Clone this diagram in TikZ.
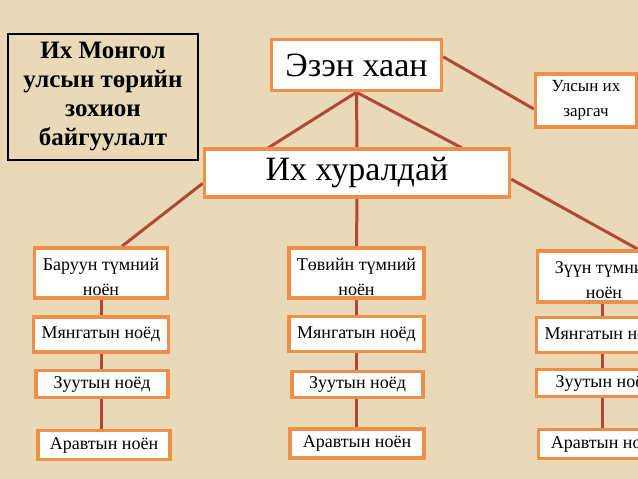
\documentclass[tikz,border=0pt]{standalone}
\usepackage{fontspec}
\setmainfont{Liberation Serif}
\usetikzlibrary{calc}
\definecolor{paper}{RGB}{234,217,182}
\definecolor{boxorange}{RGB}{238,143,74}
\definecolor{linkred}{RGB}{176,72,56}
\pgfdeclarelayer{paperlayer}
\pgfdeclarelayer{linklayer}
\pgfsetlayers{paperlayer,linklayer,main}
\begin{document}
\begin{tikzpicture}[x=1pt,y=-1pt,
  obox/.style={draw=boxorange, line width=3.5pt, fill=white, inner sep=0pt, align=center},
  small/.style={obox, font=\fontsize{18}{25}\selectfont},
  twoline/.style={text height=44pt, text depth=0pt},
  titlebox/.style={draw=black, line width=2.5pt, inner sep=0pt, align=center,
     font=\fontsize{25}{29}\selectfont\bfseries},
  link/.style={draw=linkred, line width=3pt}]
\begin{pgfonlayer}{paperlayer}
\fill[paper] (0,0) rectangle (638,479);
\end{pgfonlayer}
\useasboundingbox (0,0) rectangle (638,479);
\clip (0,0) rectangle (638,479);

% top part
\node[titlebox, minimum width=190pt, minimum height=126pt] (title) at (103,97)
  {Их Монгол\\улсын төрийн\\зохион\\байгуулалт};
\node[obox, font=\fontsize{34}{38}\selectfont, minimum width=170pt, minimum height=51pt] (ezen) at (356.5,65) {Эзэн хаан};
\node[obox, font=\fontsize{17}{25}\selectfont, minimum width=101pt, minimum height=53pt] (ulsyn) at (586,100.5) {Улсын их\\заргач};
\node[obox, font=\fontsize{34}{38}\selectfont, minimum width=305pt, minimum height=48pt] (ikh) at (357,173) {Их хуралдай};

% left column
\node[small, twoline, minimum width=133pt, minimum height=50pt] (baruun) at (101,273) {Баруун түмний\\ноён};
\node[small, minimum width=135pt, minimum height=35pt] (myng1) at (101,334.5) {Мянгатын ноёд};
\node[small, minimum width=132pt, minimum height=27pt] (zuut1) at (102,384) {Зуутын ноёд};
\node[small, minimum width=132pt, minimum height=29pt] (arav1) at (104,445) {Аравтын ноён};

% centre column
\node[small, twoline, minimum width=135pt, minimum height=50pt] (tuv) at (356.5,273) {Төвийн түмний\\ноён};
\node[small, minimum width=135pt, minimum height=35pt] (myng2) at (356.5,334) {Мянгатын ноёд};
\node[small, minimum width=131pt, minimum height=26pt] (zuut2) at (357.5,384.5) {Зуутын ноёд};
\node[small, minimum width=134pt, minimum height=29pt] (arav2) at (357,443.5) {Аравтын ноён};

% right column
\node[small, twoline, minimum width=133pt, minimum height=51pt] (zuun) at (604,276.5) {Зүүн түмний\\ноён};
\node[small, minimum width=135pt, minimum height=35pt] (myng3) at (604,335) {Мянгатын ноёд};
\node[small, minimum width=135pt, minimum height=27pt] (zuut3) at (604,383) {Зуутын ноёд};
\node[small, minimum width=133pt, minimum height=29pt] (arav3) at (605,444) {Аравтын ноён};

% connector end points
\coordinate (ikhL) at (268,148);
\coordinate (ikhR) at (462,148);

\begin{pgfonlayer}{linklayer}
\draw[link] (ezen.south) -- (ikhL);
\draw[link] (ezen.south) -- (ikh.north);
\draw[link] (ezen.south) -- (ikhR);
\draw[link] ($(ezen.north east)!0.35!(ezen.south east)$) -- ($(ulsyn.north west)!0.65!(ulsyn.south west)$);
\draw[link] ($(ikh.north west)!0.7!(ikh.south west)$) -- ($(baruun.north)+(21,0)$);
\draw[link] ($(ikh.north east)!0.62!(ikh.south east)$) -- ($(zuun.north)+(34,0)$);
\draw[link] (ikh.south) -- (tuv.north);
\draw[link] (baruun.south) -- (myng1.north);
\draw[link] (myng1.south) -- (zuut1.north -| myng1.south);
\draw[link] (zuut1.south -| myng1.south) -- (arav1.north -| myng1.south);
\draw[link] (tuv.south) -- (myng2.north);
\draw[link] (myng2.south) -- (zuut2.north -| myng2.south);
\draw[link] (zuut2.south -| myng2.south) -- (arav2.north -| myng2.south);
\draw[link] ($(zuun.south)+(-2,0)$) -- ($(myng3.north)+(-2,0)$);
\draw[link] ($(myng3.south)+(-2,0)$) -- ($(zuut3.north)+(-2,0)$);
\draw[link] ($(zuut3.south)+(-2,0)$) -- ($(arav3.north)+(-3,0)$);
\end{pgfonlayer}
\end{tikzpicture}
\end{document}
